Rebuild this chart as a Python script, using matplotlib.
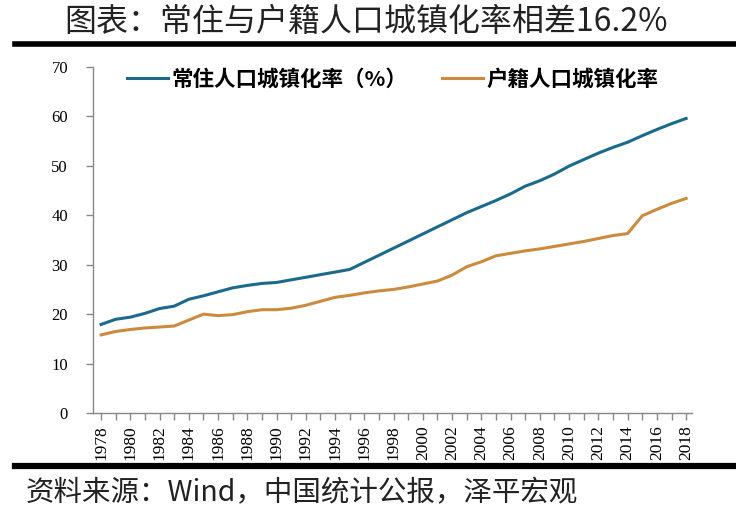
import matplotlib
matplotlib.use("Agg")
import matplotlib.pyplot as plt
from matplotlib.lines import Line2D
from matplotlib.ticker import MultipleLocator

plt.rcParams['font.family'] = ['Noto Sans CJK SC', 'DejaVu Sans']

# 城镇化率 (%)，1978-2018
years = list(range(1978, 2019))
changzhu = [17.92, 18.96, 19.39, 20.16, 21.13, 21.62, 23.01, 23.71, 24.52, 25.32,
            25.81, 26.21, 26.41, 26.94, 27.46, 27.99, 28.51, 29.04, 30.48, 31.91,
            33.35, 34.78, 36.22, 37.66, 39.09, 40.53, 41.76, 42.99, 44.34, 45.89,
            46.99, 48.34, 49.95, 51.27, 52.57, 53.73, 54.77, 56.10, 57.35, 58.52,
            59.58]
huji = [15.8, 16.5, 16.9, 17.2, 17.4, 17.6, 18.8, 20.0, 19.7, 19.9,
        20.5, 20.9, 20.9, 21.2, 21.8, 22.6, 23.4, 23.8, 24.3, 24.7,
        25.0, 25.5, 26.1, 26.7, 27.9, 29.6, 30.6, 31.8, 32.3, 32.8,
        33.2, 33.7, 34.2, 34.7, 35.3, 35.9, 36.3, 39.9, 41.2, 42.4,
        43.4]
label_cz = '常住人口城镇化率（%）'
label_hj = '户籍人口城镇化率'
title = '图表：常住与户籍人口城镇化率相差16.2%'
source = '资料来源：Wind，中国统计公报，泽平宏观'

fig = plt.figure(figsize=(7.36, 5.15), dpi=100)
ax = fig.add_axes([0.1264, 0.198, 0.814, 0.672])

ax.plot(years, changzhu, color='#1B6A8C', lw=2.2, label=label_cz)
ax.plot(years, huji, color='#CC8A3E', lw=2.2, label=label_hj)

ax.set_xlim(1977.45, 2018.41)
ax.set_ylim(0, 70)
ax.set_yticks(range(0, 71, 10))
ax.set_xticks(years[::2])
ax.xaxis.set_minor_locator(MultipleLocator(1))
ax.set_xticklabels([str(y) for y in years[::2]], rotation=90,
                   family='Liberation Serif', fontsize=12.5)
for lab in ax.get_yticklabels():
    lab.set_family('Liberation Serif')
    lab.set_fontsize(12)

for s in ['top', 'right']:
    ax.spines[s].set_visible(False)
for s in ['left', 'bottom']:
    ax.spines[s].set_color('#888888')
    ax.spines[s].set_linewidth(1.0)
ax.tick_params(axis='both', which='both', direction='out', color='#888888', width=1.0)
ax.tick_params(axis='y', length=5, pad=13)
ax.tick_params(axis='x', which='major', length=5, pad=4)
ax.tick_params(axis='x', which='minor', length=5)

leg = ax.legend(loc='upper left', bbox_to_anchor=(0.025, 1.05), ncol=2, frameon=False,
                handlelength=1.9, handletextpad=0.15, columnspacing=1.6,
                prop={'family': ['Noto Sans CJK SC', 'DejaVu Sans'], 'weight': 'bold', 'size': 15.5})

fig.text(0.497, 0.957, title, ha='center', va='center', fontsize=23,
         color='#222222', weight='light')
fig.add_artist(Line2D([0.02, 1.0], [0.9146, 0.9146], color='black', lw=4))
fig.add_artist(Line2D([0.02, 1.0], [0.095, 0.095], color='black', lw=4.5))
fig.text(0.035, 0.043, source, ha='left', va='center', fontsize=20.5,
         style='italic', color='#222222', weight='light')

fig.savefig('out.png', dpi=100)
